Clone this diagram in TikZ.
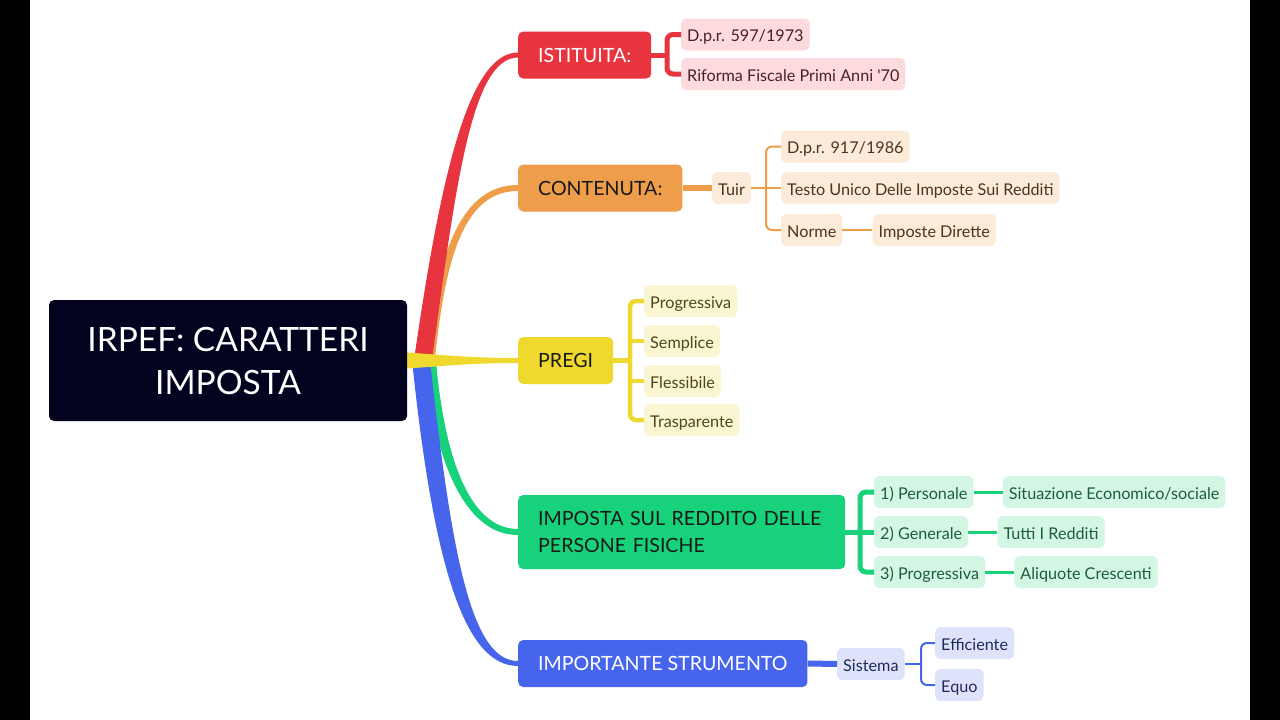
\documentclass[tikz,border=0pt]{standalone}
\usepackage{fontspec}
\setmainfont{Lato}
\usetikzlibrary{positioning,backgrounds}
\definecolor{MainNavy}{HTML}{03031F}
\definecolor{IstRed}{HTML}{E8343F}
\definecolor{IstLight}{HTML}{FCDADD}
\definecolor{IstText}{HTML}{4A2026}
\definecolor{ConOrange}{HTML}{EE9E4A}
\definecolor{ConLight}{HTML}{FCEBD8}
\definecolor{ConText}{HTML}{4A3520}
\definecolor{PreYellow}{HTML}{EFD92E}
\definecolor{PreLight}{HTML}{FBF6D2}
\definecolor{PreText}{HTML}{4D4620}
\definecolor{IrGreen}{HTML}{17D27B}
\definecolor{IrLight}{HTML}{D4F7E5}
\definecolor{IrText}{HTML}{1D5C3D}
\definecolor{StrBlue}{HTML}{4665EC}
\definecolor{StrLight}{HTML}{DEE3FB}
\definecolor{StrText}{HTML}{1F2A5C}

\begin{document}
\begin{tikzpicture}[
    x=1pt, y=-1pt,
    node distance=10pt and 29pt,
    mainbox/.style={fill=MainNavy, rounded corners=5pt, text=white, align=center, font=\fontsize{33.5}{43}\selectfont, minimum width=358pt, minimum height=121pt},
    topic/.style={fill=#1, rounded corners=5pt, anchor=west, minimum height=47pt, inner xsep=20pt, font=\fontsize{19.6}{27}\selectfont},
    leaf/.style={fill=#1, rounded corners=5pt, anchor=west, minimum height=32pt, inner xsep=6pt, text height=15pt, text depth=0.5pt, font=\fontsize{16.2}{19}\selectfont},
    link/.style={draw=#1, rounded corners=6pt}
]
    \useasboundingbox (0,0) rectangle (1280,720);

    % central topic
    \node[mainbox] (irpef) at (228,360.5) {IRPEF: CARATTERI\\IMPOSTA};

    % main topics
    \node[topic=IstRed, text=white] (ist) at (518,55) {ISTITUITA:};
    \node[topic=ConOrange, text=black!90] (cont) at (518,188) {CONTENUTA:};
    \node[topic=PreYellow, text=black!90] (pregi) at (518,360.5) {PREGI};
    \node[topic=IrGreen, text=black!90, align=left, text width=287pt, minimum height=74pt] (redd) at (518,532) {IMPOSTA SUL REDDITO DELLE\\PERSONE FISICHE};
    \node[topic=StrBlue, text=white] (strum) at (518,663.5) {IMPORTANTE STRUMENTO};

    % istituita
    \node[leaf=IstLight, text=IstText] (dpr1) at (681,34.5) {D.p.r. 597/1973};
    \node[leaf=IstLight, text=IstText] (rif) at (681,74) {Riforma Fiscale Primi Anni \textquotesingle70};
    \coordinate (istj) at (667,55);

    % contenuta
    \node[leaf=ConLight, text=ConText] (tuir) at (712,188) {Tuir};
    \node[leaf=ConLight, text=ConText] (dpr2) at (781,146.5) {D.p.r. 917/1986};
    \node[leaf=ConLight, text=ConText] (testo) at (781,188) {Testo Unico Delle Imposte Sui Redditi};
    \node[leaf=ConLight, text=ConText] (norme) at (781,230) {Norme};
    \node[leaf=ConLight, text=ConText, right=30pt of norme] (dirette) {Imposte Dirette};
    \coordinate (tuirj) at (766,188);

    % pregi
    \node[leaf=PreLight, text=PreText] (progr) at (644,301) {Progressiva};
    \node[leaf=PreLight, text=PreText] (sempl) at (644,341) {Semplice};
    \node[leaf=PreLight, text=PreText] (fless) at (644,381) {Flessibile};
    \node[leaf=PreLight, text=PreText] (trasp) at (644,420) {Trasparente};
    \coordinate (pregj) at (630,360.5);

    % imposta sul reddito
    \node[leaf=IrLight, text=IrText] (pers) at (874,492) {1) Personale};
    \node[leaf=IrLight, text=IrText] (gen) at (874,532) {2) Generale};
    \node[leaf=IrLight, text=IrText] (prog3) at (874,572) {3) Progressiva};
    \node[leaf=IrLight, text=IrText, right=of pers] (situ) {Situazione Economico/sociale};
    \node[leaf=IrLight, text=IrText, right=of gen] (tutti) {Tutti I Redditi};
    \node[leaf=IrLight, text=IrText, right=of prog3] (aliq) {Aliquote Crescenti};
    \coordinate (reddj) at (860,532);

    % importante strumento
    \node[leaf=StrLight, text=StrText] (sist) at (837,664) {Sistema};
    \node[leaf=StrLight, text=StrText] (effi) at (935,643) {Efficiente};
    \node[leaf=StrLight, text=StrText] (equo) at (935,685) {Equo};
    \coordinate (sistj) at (921,664);

    \begin{scope}[on background layer]
        \fill[white] (30,0) rectangle (1250,720);
        \fill[black] (0,0) rectangle (30,720);
        \fill[black] (1250,0) rectangle (1280,720);
        % tapered branches
        \fill[ConOrange] (425,358) .. controls (438,250) and (462,185) .. ([yshift=3pt]cont.west) -- ([yshift=-3pt]cont.west) .. controls (466,191) and (446,252) .. (435,358) -- cycle;
        \fill[IrGreen] (424,362) .. controls (436,470) and (468,535) .. ([yshift=-3pt]redd.west) -- ([yshift=3pt]redd.west) .. controls (474,529) and (446,470) .. (436,362) -- cycle;
        \fill[IstRed] (414,360) .. controls (440,180) and (468,52.5) .. ([yshift=2.5pt]ist.west) -- ([yshift=-2.5pt]ist.west) .. controls (472,57.5) and (456,182) .. (432,360) -- cycle;
        \fill[StrBlue] (412,360) .. controls (434,572) and (466,666) .. ([yshift=-2.5pt]strum.west) -- ([yshift=2.5pt]strum.west) .. controls (472,661) and (452,560) .. (430,360) -- cycle;
        \fill[PreYellow] (400,352) .. controls (445,355) and (470,358) .. ([yshift=2.5pt]pregi.west) -- ([yshift=-2.5pt]pregi.west) .. controls (470,363) and (445,366) .. (400,369) -- cycle;
    \end{scope}

    % connectors
    \draw[link=IstRed, line width=5pt] (ist.east) -- (istj);
    \draw[link=IstRed, line width=5pt] (dpr1.west) -| (istj) |- (rif.west);

    \draw[link=ConOrange, line width=6pt] (cont.east) -- (tuir.west);
    \draw[link=ConOrange, line width=2pt] (tuir.east) -- (testo.west);
    \draw[link=ConOrange, line width=2pt] (dpr2.west) -| (tuirj) |- (norme.west);
    \draw[link=ConOrange, line width=2pt] (norme) -- (dirette);

    \draw[link=PreYellow, line width=4.5pt] (pregi.east) -- (pregj);
    \draw[link=PreYellow, line width=4.5pt] (progr.west) -| (pregj) |- (trasp.west);
    \draw[link=PreYellow, line width=4.5pt] (sempl.west) -- (sempl.west -| pregj);
    \draw[link=PreYellow, line width=4.5pt] (fless.west) -- (fless.west -| pregj);

    \draw[link=IrGreen, line width=5pt] (redd.east) -- (gen.west);
    \draw[link=IrGreen, line width=5pt] (pers.west) -| (reddj) |- (prog3.west);
    \draw[link=IrGreen, line width=3pt] (pers) -- (situ);
    \draw[link=IrGreen, line width=3pt] (gen) -- (tutti);
    \draw[link=IrGreen, line width=3pt] (prog3) -- (aliq);

    \draw[link=StrBlue, line width=6pt] (strum.east) -- (sist.west);
    \draw[link=StrBlue, line width=2pt] (sist.east) -- (sistj);
    \draw[link=StrBlue, line width=2pt] (effi.west) -| (sistj) |- (equo.west);
\end{tikzpicture}
\end{document}
